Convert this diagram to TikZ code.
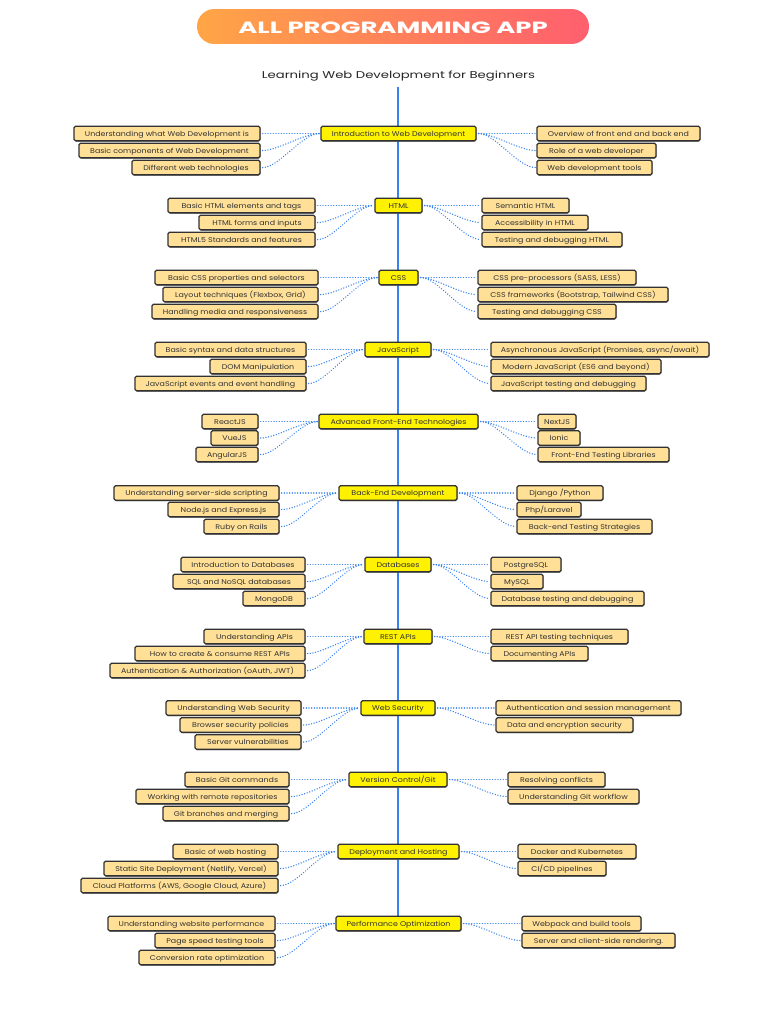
\documentclass[tikz,border=0pt]{standalone}
\usepackage{fontspec}
\setmainfont{Poppins}[FakeStretch=1.14]
\newfontfamily\titlefont{Poppins}[FakeStretch=1.59,BoldFont=Poppins Bold]
\newfontfamily\subfont{Poppins}[FakeStretch=1.34]
\usetikzlibrary{shadows}
\definecolor{leafcol}{RGB}{255,224,150}
\definecolor{linkcol}{RGB}{55,130,240}
\definecolor{edgecol}{RGB}{50,50,50}
\definecolor{pillleft}{RGB}{255,165,70}
\definecolor{pillright}{RGB}{255,95,110}
\tikzset{
	box/.style={draw=edgecol,line width=.95pt,rounded corners=1.2pt,inner sep=0pt,minimum height=11pt,yshift=-.4pt,
		text height=5pt,text depth=1.1pt,font=\fontsize{5.2}{6}\selectfont,text=black!80,
		drop shadow={shadow xshift=.5pt,shadow yshift=-.6pt,fill=black!45,opacity=1}},
	topic/.style={box,fill=yellow},
	leaf/.style={box,fill=leafcol},
	link/.style={linkcol,line width=1.1pt,line cap=round,dash pattern=on .01pt off 2pt,shorten <=1.5pt,shorten >=.5pt}
}
\begin{document}
\begin{tikzpicture}[x=.75pt,y=-.75pt,line join=round]
	\useasboundingbox (0,0) rectangle (768,1024);
	\fill[white] (0,0) rectangle (768,1024);
	% title
	\node[rounded corners=13pt,left color=pillleft,right color=pillright,minimum width=294pt,minimum height=26.2pt,
		font=\titlefont\fontsize{12.2}{14}\bfseries\selectfont,text=white,inner sep=0pt,text height=11pt,text depth=0pt] (title) at (393,26.5) {ALL PROGRAMMING APP};
	\node[font=\subfont\fontsize{7.4}{9}\selectfont,text=black!85] (sub) at (398.5,76.5) {Learning Web Development for Beginners};
	\coordinate (spinetop) at (398,87);
	\coordinate (spineend) at (398,930);
	\draw[linkcol,line width=1.5pt] (spinetop)--(spineend);
	% topics
	\foreach \n/\xa/\xb/\y/\txt in {
		intro/321/476/133/{Introduction to Web Development},
		html/375/422/205/{HTML},
		css/379/418/277/{CSS},
		js/365/431/349/{JavaScript},
		adv/319/478/421/{Advanced Front-End Technologies},
		back/339/457/492.5/{Back-End Development},
		db/365/431/564/{Databases},
		rest/364/432/636/{REST APIs},
		sec/361/435/707.5/{Web Security},
		git/349/447/779/{Version Control/Git},
		dep/338/459/851/{Deployment and Hosting},
		perf/336/461/923/{Performance Optimization}}
	\node[topic,minimum width={(\xb-\xa)*.75pt}] (\n) at ({(\xa+\xb)/2},\y) {\txt};
	% left leaves
	\foreach \n/\xa/\xb/\y/\txt [count=\i] in {
		intro/74/260/133/{Understanding what Web Development is},
		intro/79/260/150/{Basic components of Web Development},
		intro/132/260/167/{Different web technologies},
		html/168/315/205/{Basic HTML elements and tags},
		html/199/315/222/{HTML forms and inputs},
		html/168/315/239/{HTML5 Standards and features},
		css/155/318/277/{Basic CSS properties and selectors},
		css/163/318/294/{Layout techniques (Flexbox, Grid)},
		css/152/318/311/{Handling media and responsiveness},
		js/155/306/349/{Basic syntax and data structures},
		js/210/306/366/{DOM Manipulation},
		js/135/306/383/{JavaScript events and event handling},
		adv/202/258/421/{ReactJS},
		adv/211/258/437.5/{VueJS},
		adv/196/258/454/{AngularJS},
		back/114/279/492.5/{Understanding server-side scripting},
		back/168/279/509/{Node.js and Express.js},
		back/204/279/526/{Ruby on Rails},
		db/181/305/564/{Introduction to Databases},
		db/173/305/581/{SQL and NoSQL databases},
		db/243/305/598/{MongoDB},
		rest/204/305/636/{Understanding APIs},
		rest/135/305/653/{How to create \& consume REST APIs},
		rest/110/305/670/{Authentication \& Authorization (oAuth, JWT)},
		sec/166/301/707.5/{Understanding Web Security},
		sec/180/301/724.5/{Browser security policies},
		sec/195/301/741.5/{Server vulnerabilities},
		git/185/289/779/{Basic Git commands},
		git/136/289/796/{Working with remote repositories},
		git/163/289/813/{Git branches and merging},
		dep/173/278/851/{Basic of web hosting},
		dep/104/278/868/{Static Site Deployment (Netlify, Vercel)},
		dep/81/278/885/{Cloud Platforms (AWS, Google Cloud, Azure)},
		perf/108/275/923/{Understanding website performance},
		perf/155/275/940/{Page speed testing tools},
		perf/139/275/957/{Conversion rate optimization}}
	{
		\node[leaf,minimum width={(\xb-\xa)*.75pt}] (l\i) at ({(\xa+\xb)/2},\y) {\txt};
		\draw[link] (l\i.east) to[out=0,in=180,looseness=.7] (\n.west);
	}
	% right leaves
	\foreach \n/\xa/\xb/\y/\txt [count=\i] in {
		intro/537/700/133/{Overview of front end and back end},
		intro/537/656/150/{Role of a web developer},
		intro/537/652/167/{Web development tools},
		html/482/569/205/{Semantic HTML},
		html/482/588/222/{Accessibility in HTML},
		html/482/622/239/{Testing and debugging HTML},
		css/478/636/277/{CSS pre-processors (SASS, LESS)},
		css/478/668/294/{CSS frameworks (Bootstrap, Tailwind CSS)},
		css/478/616/311/{Testing and debugging CSS},
		js/491/709/349/{Asynchronous JavaScript (Promises, async/await)},
		js/491/661/366/{Modern JavaScript (ES6 and beyond)},
		js/491/646/383/{JavaScript testing and debugging},
		adv/538/576/421/{NextJS},
		adv/538/580/437.5/{Ionic},
		adv/538/669/454/{Front-End Testing Libraries},
		back/517/603/492.5/{Django /Python},
		back/517/581/509/{Php/Laravel},
		back/517/652/526/{Back-end Testing Strategies},
		db/491/561/564/{PostgreSQL},
		db/491/543/581/{MySQL},
		db/491/644/598/{Database testing and debugging},
		rest/491/628/636/{REST API testing techniques},
		rest/491/588/653/{Documenting APIs},
		sec/496/681/707.5/{Authentication and session management},
		sec/496/633/724.5/{Data and encryption security},
		git/508/605/779/{Resolving conflicts},
		git/508/639/796/{Understanding Git workflow},
		dep/518/636/851/{Docker and Kubernetes},
		dep/518/606/868/{CI/CD pipelines},
		perf/522/641/923/{Webpack and build tools},
		perf/522/675/940/{Server and client-side rendering.}}
	{
		\node[leaf,minimum width={(\xb-\xa)*.75pt}] (r\i) at ({(\xa+\xb)/2},\y) {\txt};
		\draw[link] (\n.east) to[out=0,in=180,looseness=.7] (r\i.west);
	}
\end{tikzpicture}
\end{document}
